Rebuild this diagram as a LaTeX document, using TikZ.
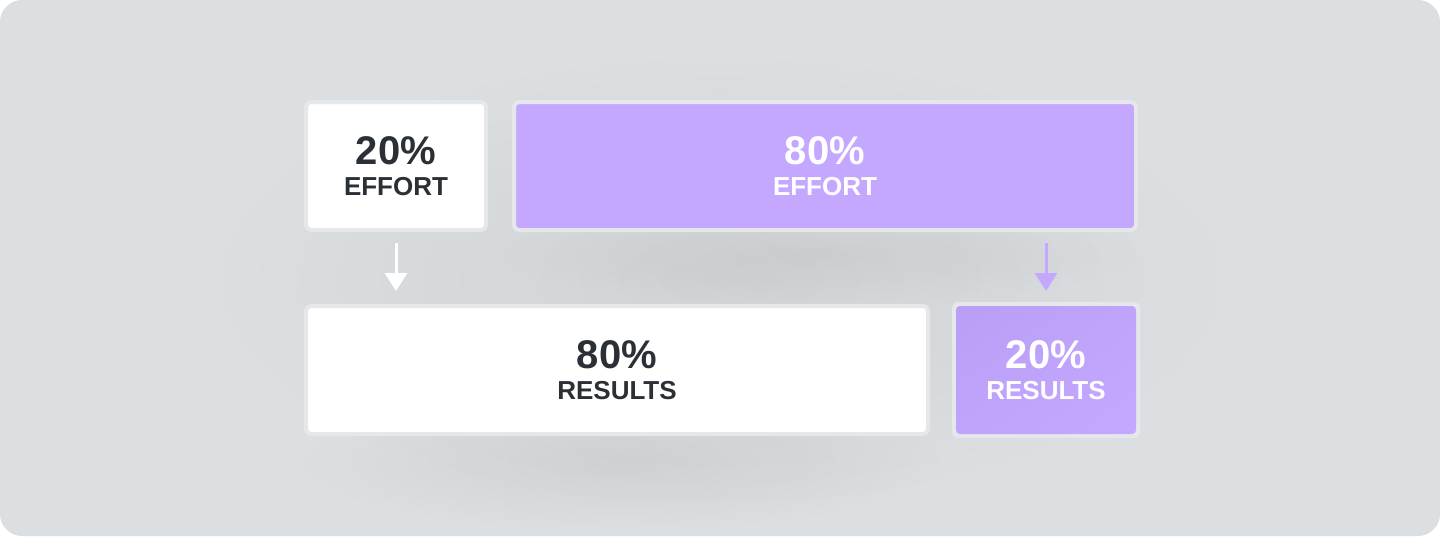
\documentclass[tikz,border=0pt]{standalone}
\usepackage{fontspec}
\setmainfont{Liberation Sans}
\usetikzlibrary{fadings,arrows.meta,shadings}
\definecolor{bg}{HTML}{DCDFE2}
\definecolor{ring}{HTML}{E5E7EA}
\definecolor{purp}{HTML}{C4A8FF}
\definecolor{purpd}{HTML}{B99EF5}
\definecolor{purpm}{HTML}{C0A4FB}
\definecolor{ink}{HTML}{2A3035}
\tikzfading[name=softedge, inner color=transparent!0, outer color=transparent!100]
\tikzset{
  card/.style={rounded corners=5pt, minimum height=128pt, inner sep=0pt, align=center,
    font=\bfseries, draw=ring, line width=4pt},
  whitecard/.style={card, fill=white, text=ink},
  purpcard/.style={card, fill=purp, text=white},
  flow/.style={line width=3pt, -{Triangle[length=18pt,width=22pt]}, shorten <=11pt, shorten >=13pt},
}
\newcommand{\numf}{\fontsize{40}{40}\selectfont}
\newcommand{\lblf}{\fontsize{26}{30}\selectfont}
\begin{document}
\begin{tikzpicture}[x=1pt,y=-1pt]
\useasboundingbox (0,0) rectangle (1440,536);
\fill[white] (0,0) rectangle (1440,536);
\fill[bg, rounded corners=22pt] (0,0) rectangle (1440,536);
% soft shadows
\fill[black, opacity=0.05, path fading=softedge] (720,280) ellipse [x radius=520pt, y radius=230pt];
\fill[black, opacity=0.05, path fading=softedge] (620,462) ellipse [x radius=330pt, y radius=70pt];
\fill[black, opacity=0.04, path fading=softedge] (820,255) ellipse [x radius=330pt, y radius=50pt];
% cards
\node[whitecard, minimum width=180pt] (e20) at (396,166) {\numf 20\%\\[11pt]\lblf EFFORT};
\node[purpcard, minimum width=622pt] (e80) at (825,166) {\numf 80\%\\[11pt]\lblf EFFORT};
\node[whitecard, minimum width=622pt] (r80) at (617,370) {\numf 80\%\\[11pt]\lblf RESULTS};
\node[card, minimum width=180pt, draw=none] (r20) at (1046,370) {};
\fill[ring, rounded corners=6pt] ([shift={(-2pt,2pt)}]r20.north west) rectangle ([shift={(2pt,-2pt)}]r20.south east);
\shade[upper left=purpd, upper right=purpm, lower left=purpm, lower right=purp, rounded corners=4pt]
  ([shift={(2pt,-2pt)}]r20.north west) rectangle ([shift={(-2pt,2pt)}]r20.south east);
\node[align=center, font=\bfseries, text=white] (r20t) at (r20.center) {\numf 20\%\\[11pt]\lblf RESULTS};
% arrows
\draw[flow, white] (e20.south) -- (e20.south |- r80.north);
\draw[flow, purp] (r20.north |- e80.south) -- (r20.north);
\end{tikzpicture}
\end{document}
